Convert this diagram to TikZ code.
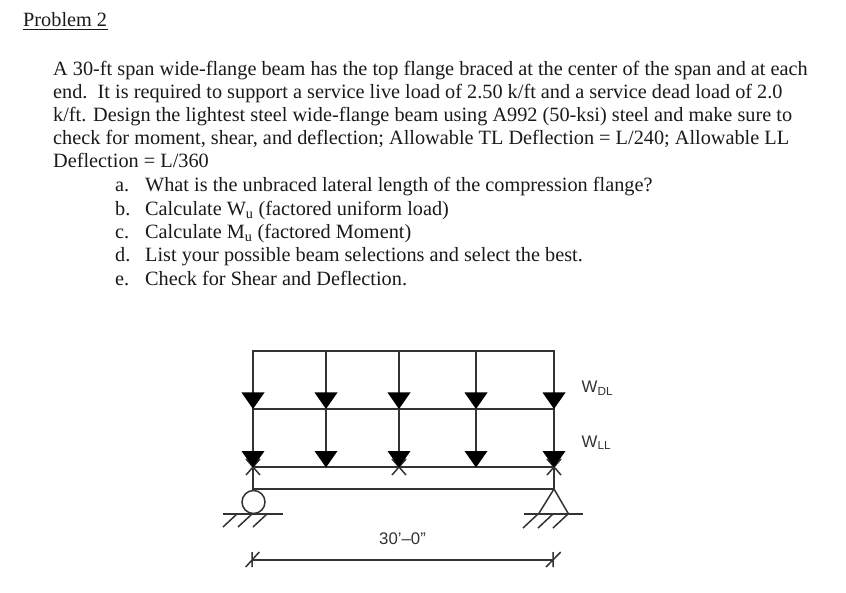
\documentclass[tikz,border=0pt]{standalone}
\usepackage{fontspec}
\setmainfont{Liberation Serif}
\newfontfamily\labelfont{Liberation Sans}
\definecolor{ink}{HTML}{333333}
\definecolor{txt}{HTML}{1A1A1A}
\tikzset{x=1pt,y=-1pt,
  para/.style={anchor=base west,inner sep=0pt,font=\fontsize{20.28}{23}\selectfont,text=txt},
  dia/.style={anchor=base west,inner sep=0pt,font=\labelfont\fontsize{16.8}{19}\selectfont,text=ink},
  ln/.style={draw=ink,line width=1.5pt},
  head/.style={fill=black,draw=none}}
\newcommand{\loadtip}[2]{\fill[head] (#1-11.5,#2-16.5) -- (#1+11.5,#2-16.5) -- (#1,#2) -- cycle;}
\newcommand{\tick}[2]{\draw[ln] (#1-7,#2-8) -- (#1+7,#2+8) (#1-7,#2+8) -- (#1+7,#2-8);}
\newcommand{\itm}[1]{\makebox[30pt][l]{#1}}
\begin{document}
\begin{tikzpicture}
\useasboundingbox (0,0) rectangle (846,593);
\fill[white] (0,0) rectangle (846,593);
\node[para] (title) at (23,26.5) {Problem 2};
\draw[txt,line width=1pt] (23,30) -- (107.5,30);
\node[para] (l1) at (53,75.5) {A 30-ft span wide-flange beam has the top flange braced at the center of the span and at each};
\node[para] (l2) at (53,98.5) {end.\ \ It is required to support a service live load of 2.50 k/ft and a service dead load of 2.0};
\node[para] (l3) at (53,122) {k/ft. Design the lightest steel wide-flange beam using A992 (50-ksi) steel and make sure to};
\node[para] (l4) at (53,145) {check for moment, shear, and deflection; Allowable TL Deflection = L/240; Allowable LL};
\node[para] (l5) at (53,168) {Deflection = L/360};
\node[para] (a) at (115,191.5) {\itm{a.}What is the unbraced lateral length of the compression flange?};
\node[para] (b) at (115,215.5) {\itm{b.}Calculate W\textsubscript{u} (factored uniform load)};
\node[para] (c) at (115,238.5) {\itm{c.}Calculate M\textsubscript{u} (factored Moment)};
\node[para] (d) at (115,262) {\itm{d.}List your possible beam selections and select the best.};
\node[para] (e) at (115,285.5) {\itm{e.}Check for Shear and Deflection.};
% frame of the loads
\draw[ln] (253,409) -- (253,351) -- (554,351) -- (554,409);
\draw[ln] (253,409) -- (554,409);
\draw[ln] (253,467) -- (554,467);
\draw[ln] (253,489) -- (554,489);
\draw[ln] (326,351) -- (326,467);
\draw[ln] (399,351) -- (399,467);
\draw[ln] (476,351) -- (476,467);
\draw[ln] (253,409) -- (253,490);
\draw[ln] (554,409) -- (554,489);
\tick{253}{467}\tick{399}{467}\tick{554}{467}
\foreach \px in {253,326,399,476,554}{\loadtip{\px}{409}\loadtip{\px}{467.5}}
% supports
\node[circle,draw=ink,line width=1.5pt,minimum size=23pt,inner sep=0pt] (roller) at (253.5,502) {};
\draw[ln] (223,514) -- (283,514);
\foreach \hx in {237,252,267}{\draw[ln] (\hx,514) -- (\hx-14,527);}
\coordinate (apex) at (554,489);
\draw[ln] (apex) -- (538.5,514) (apex) -- (568.5,514);
\draw[ln] (524,514) -- (583,514);
\foreach \hx in {538,553,568}{\draw[ln] (\hx,514) -- (\hx-15,528);}
% dimension
\coordinate (dl) at (252,560); \coordinate (dr) at (553,560);
\draw[ln] (dl) -- (dr);
\draw[ln] (245.7,567) -- (259.3,552) (252,552) -- (252,567);
\draw[ln] (546,567) -- (560.7,552) (553,552) -- (553,567);
\node[dia] (span) at (379,544.5) {30’–0”};
\node[dia] (wdl) at (581.5,392.5) {W\textsubscript{DL}};
\node[dia] (wll) at (581.5,447) {W\textsubscript{LL}};
\end{tikzpicture}
\end{document}
